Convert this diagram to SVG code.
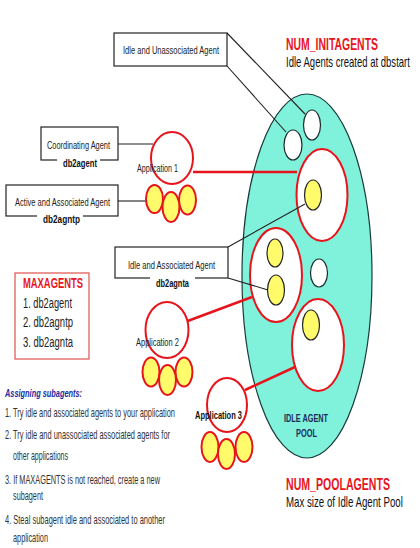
<svg xmlns="http://www.w3.org/2000/svg" width="420" height="548" viewBox="0 0 420 548">
<style>
text{font-family:"Liberation Sans",Arial,sans-serif;}
.box{fill:#fff;stroke:#222;stroke-width:1.2;}
.lbl{font-size:11px;fill:#222;}
.bl{font-size:10px;font-weight:bold;fill:#111;}
.app{fill:#fff;stroke:#e8141c;stroke-width:2;}
.yel{fill:#fffb6b;stroke:#e8141c;stroke-width:2;}
.yin{fill:#fffb6b;stroke:#222;stroke-width:1.2;}
.idle{fill:#fff;stroke:#1a2a2a;stroke-width:1.2;}
.blk{stroke:#222;stroke-width:1.1;fill:none;}
.red{stroke:#e8141c;stroke-width:2.5;fill:none;}
.list{font-size:12px;fill:#333;}
.param{font-size:16px;font-weight:bold;fill:#e8141c;}
.desc{font-size:14px;fill:#111;}
.pool{font-size:10px;font-weight:bold;fill:#1c2a5a;}
</style>

<g id="pool">
<ellipse cx="307" cy="276" rx="65" ry="182" fill="#80f2dc" stroke="#1a3a3a" stroke-width="1.2"/>
<text class="pool" transform="translate(284,422) scale(0.75,1)" textLength="58.7" lengthAdjust="spacingAndGlyphs">IDLE AGENT</text>
<text class="pool" transform="translate(296,437) scale(0.75,1)" textLength="28" lengthAdjust="spacingAndGlyphs">POOL</text>
</g>

<g id="idle-unassoc-1"><ellipse class="idle" cx="312" cy="125" rx="8.5" ry="15"/></g>
<g id="idle-unassoc-2"><ellipse class="idle" cx="293" cy="145" rx="9" ry="15"/></g>
<g id="idle-unassoc-3"><ellipse class="idle" cx="319" cy="273" rx="8.5" ry="14"/></g>

<g id="pool-app1">
<ellipse class="app" cx="322" cy="195" rx="25.5" ry="46"/>
<ellipse class="yin" cx="313" cy="195" rx="8.5" ry="15"/>
</g>
<g id="pool-app2">
<ellipse class="app" cx="276" cy="275" rx="26" ry="47"/>
<ellipse class="yin" cx="275" cy="253" rx="8" ry="14"/>
<ellipse class="yin" cx="276" cy="290" rx="8.5" ry="15"/>
</g>
<g id="pool-app3">
<ellipse class="app" cx="318" cy="345" rx="26" ry="46"/>
<ellipse class="yin" cx="311" cy="325" rx="8.5" ry="15"/>
</g>

<g id="connectors">
<line class="blk" x1="227" y1="33" x2="305" y2="114"/>
<line class="blk" x1="227" y1="66" x2="286" y2="132"/>
<line class="blk" x1="118" y1="144" x2="153" y2="144"/>
<line class="blk" x1="118" y1="201" x2="146" y2="201"/>
<line class="blk" x1="228" y1="247" x2="305" y2="204"/>
<line class="blk" x1="228" y1="278" x2="268" y2="290"/>
<line class="red" x1="193" y1="172" x2="297" y2="172"/>
<line class="red" x1="185" y1="322" x2="252" y2="297"/>
<line class="red" x1="245" y1="390" x2="295" y2="367"/>
</g>

<g id="app1">
<ellipse class="app" cx="172" cy="158" rx="21" ry="26"/>
<text class="lbl" transform="translate(137,172) scale(0.75,1)" textLength="54.7" lengthAdjust="spacingAndGlyphs">Application 1</text>
<ellipse class="yel" cx="154.5" cy="199" rx="8.5" ry="14"/>
<ellipse class="yel" cx="187.5" cy="200" rx="8.5" ry="14.5"/>
<ellipse class="yel" cx="171" cy="207" rx="8.5" ry="15"/>
</g>

<g id="app2">
<ellipse class="app" cx="167" cy="330" rx="21.5" ry="28"/>
<text class="lbl" transform="translate(136,346) scale(0.75,1)" textLength="57.3" lengthAdjust="spacingAndGlyphs">Application 2</text>
<ellipse class="yel" cx="151" cy="372" rx="8.5" ry="14.5"/>
<ellipse class="yel" cx="184" cy="372" rx="8.5" ry="14.5"/>
<ellipse class="yel" cx="167.5" cy="380" rx="8.5" ry="15"/>
</g>

<g id="app3">
<ellipse class="app" cx="227" cy="405" rx="20" ry="27"/>
<text transform="translate(195,419) scale(0.75,1)" font-size="11" font-weight="bold" fill="#111" textLength="62.7" lengthAdjust="spacingAndGlyphs">Application 3</text>
<ellipse class="yel" cx="210" cy="447" rx="8.5" ry="15"/>
<ellipse class="yel" cx="244" cy="447" rx="8.5" ry="15"/>
<ellipse class="yel" cx="226.5" cy="454" rx="8.5" ry="15"/>
</g>

<g id="box-idle-unassoc">
<rect class="box" x="114" y="33" width="113" height="33"/>
<text class="lbl" transform="translate(123,54) scale(0.75,1)" textLength="128" lengthAdjust="spacingAndGlyphs">Idle and Unassociated Agent</text>
</g>

<g id="box-coord">
<rect class="box" x="41" y="127" width="77" height="33"/>
<rect x="57" y="157" width="43" height="12" fill="#fff"/>
<text class="lbl" transform="translate(47,149) scale(0.75,1)" textLength="84" lengthAdjust="spacingAndGlyphs">Coordinating Agent</text>
<text class="bl" transform="translate(63,167) scale(0.75,1)" textLength="45.3" lengthAdjust="spacingAndGlyphs">db2agent</text>
</g>

<g id="box-active">
<rect class="box" x="6" y="185" width="112" height="31"/>
<rect x="37" y="213" width="46" height="12" fill="#fff"/>
<text class="lbl" transform="translate(15,206) scale(0.75,1)" textLength="126.7" lengthAdjust="spacingAndGlyphs">Active and Associated Agent</text>
<text class="bl" transform="translate(43,223) scale(0.75,1)" textLength="49.3" lengthAdjust="spacingAndGlyphs">db2agntp</text>
</g>

<g id="box-idle-assoc">
<rect class="box" x="115" y="247" width="113" height="31"/>
<rect x="150" y="275" width="45" height="13" fill="#fff"/>
<text class="lbl" transform="translate(128,269) scale(0.75,1)" textLength="116" lengthAdjust="spacingAndGlyphs">Idle and Associated Agent</text>
<text class="bl" transform="translate(156,287) scale(0.75,1)" textLength="44" lengthAdjust="spacingAndGlyphs">db2agnta</text>
</g>

<g id="maxagents">
<rect x="15" y="273" width="74" height="86" fill="#fff" stroke="#e05050" stroke-width="1.2"/>
<text transform="translate(23,288) scale(0.75,1)" font-size="14" font-weight="bold" fill="#e8141c" textLength="80" lengthAdjust="spacingAndGlyphs">MAXAGENTS</text>
<text transform="translate(23,308) scale(0.75,1)" font-size="15" fill="#222" textLength="65.3" lengthAdjust="spacingAndGlyphs">1. db2agent</text>
<text transform="translate(23,327) scale(0.75,1)" font-size="15" fill="#222" textLength="66.7" lengthAdjust="spacingAndGlyphs">2. db2agntp</text>
<text transform="translate(23,347) scale(0.75,1)" font-size="15" fill="#222" textLength="66.7" lengthAdjust="spacingAndGlyphs">3. db2agnta</text>
</g>

<g id="num-initagents">
<text class="param" transform="translate(286,50) scale(0.7,1)" textLength="131.4" lengthAdjust="spacingAndGlyphs">NUM_INITAGENTS</text>
<text class="desc" transform="translate(286,67) scale(0.7,1)" textLength="177" lengthAdjust="spacingAndGlyphs">Idle Agents created at dbstart</text>
</g>

<g id="num-poolagents">
<text class="param" transform="translate(286,490) scale(0.7,1)" textLength="148.6" lengthAdjust="spacingAndGlyphs">NUM_POOLAGENTS</text>
<text class="desc" transform="translate(286,507) scale(0.7,1)" textLength="167" lengthAdjust="spacingAndGlyphs">Max size of Idle Agent Pool</text>
</g>

<g id="assigning">
<text transform="translate(5,397) scale(0.75,1)" font-size="11" font-weight="bold" font-style="italic" fill="#1a2aa0" textLength="102.7" lengthAdjust="spacingAndGlyphs">Assigning subagents:</text>
<text class="list" transform="translate(5,417) scale(0.55,1)" textLength="309" lengthAdjust="spacingAndGlyphs">1. Try idle and associated agents to your application</text>
<text class="list" transform="translate(5,439) scale(0.55,1)" textLength="300" lengthAdjust="spacingAndGlyphs">2. Try idle and unassociated associated agents for</text>
<text class="list" transform="translate(13,460) scale(0.55,1)" textLength="100" lengthAdjust="spacingAndGlyphs">other applications</text>
<text class="list" transform="translate(5,484) scale(0.55,1)" textLength="281.8" lengthAdjust="spacingAndGlyphs">3. If MAXAGENTS is not reached, create a new</text>
<text class="list" transform="translate(13,500) scale(0.55,1)" textLength="54.5" lengthAdjust="spacingAndGlyphs">subagent</text>
<text class="list" transform="translate(5,524) scale(0.55,1)" textLength="290.9" lengthAdjust="spacingAndGlyphs">4. Steal subagent idle and associated to another</text>
<text class="list" transform="translate(13,542) scale(0.55,1)" textLength="63.6" lengthAdjust="spacingAndGlyphs">application</text>
</g>
</svg>
